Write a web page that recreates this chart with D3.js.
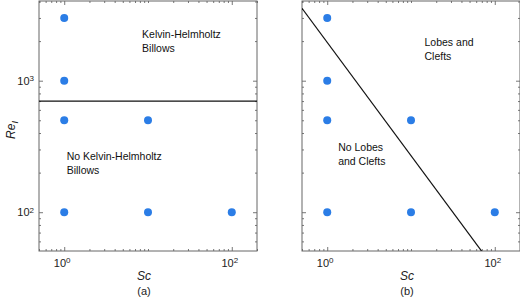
<!DOCTYPE html>
<html>
<head>
<meta charset="utf-8">
<script src="https://cdn.jsdelivr.net/npm/d3@7"></script>
<style>
  body { margin: 0; background: #fff; }
  text { font-family: "Liberation Sans", Arial, sans-serif; }
</style>
</head>
<body>
<div id="chart"></div>
<script>
// simulation points (Sc, Re_I), same in both panels
var scValues = [1, 1, 1, 10, 1, 10, 100];
var reValues = [3000, 1000, 500, 500, 100, 100, 100];

// regime boundaries
var khLine = [[0.5, 700], [200, 700]];          // panel (a)
var lobeLine = [[0.5, 3550], [70.6, 50]];        // panel (b)

var xTicks = [1, 100];
var yTicks = [100, 1000];

var panels = [
  { id: "(a)", left: 39, boundary: khLine,
    notes: [
      { sc: 8.5, re: 2100, lines: ["Kelvin-Helmholtz", "Billows"] },
      { sc: 1.07, re: 250, lines: ["No Kelvin-Helmholtz", "Billows"] }
    ] },
  { id: "(b)", left: 302, boundary: lobeLine,
    notes: [
      { sc: 14.5, re: 1830, lines: ["Lobes and", "Clefts"] },
      { sc: 1.35, re: 290, lines: ["No Lobes", "and Clefts"] }
    ] }
];

var w = 520, h = 298;
var pw = 218, plotTop = 1, plotBottom = 251;

var svg = d3.select("#chart").append("svg")
    .attr("width", w)
    .attr("height", h);

var yScale = d3.scaleLog().domain([50.7, 4036]).range([plotBottom, plotTop]);

function minorTicks(domain) {
  var out = [];
  for (var e = -2; e <= 4; e++) {
    for (var m = 1; m <= 9; m++) {
      var v = m * Math.pow(10, e);
      if (v >= domain[0] && v <= domain[1]) out.push(v);
    }
  }
  return out;
}

function superLabel(sel) {
  sel.each(function(d) {
    var t = d3.select(this).text("");
    t.append("tspan").text("10");
    t.append("tspan").attr("dy", "-0.45em").attr("font-size", "8px").text(Math.round(Math.log10(d)));
  });
}

panels.forEach(function(p, i) {
  var xScale = d3.scaleLog().domain([0.5, 200]).range([p.left, p.left + pw]);
  var g = svg.append("g");

  g.append("defs").append("clipPath").attr("id", "clip" + i)
    .append("rect").attr("x", p.left).attr("y", plotTop)
    .attr("width", pw).attr("height", plotBottom - plotTop);

  var xMinor = minorTicks(xScale.domain());
  var yMinor = minorTicks(yScale.domain());

  // inward ticks on all four sides
  var axes = [
    { ax: d3.axisBottom(xScale), y: plotBottom, vals: xMinor, major: xTicks, horiz: true },
    { ax: d3.axisTop(xScale), y: plotTop, vals: xMinor, major: xTicks, horiz: true },
    { ax: d3.axisLeft(yScale), x: p.left, vals: yMinor, major: yTicks, horiz: false },
    { ax: d3.axisRight(yScale), x: p.left + pw, vals: yMinor, major: yTicks, horiz: false }
  ];
  axes.forEach(function(a) {
    var ag = g.append("g")
      .attr("transform", a.horiz ? "translate(0," + a.y + ")" : "translate(" + a.x + ",0)")
      .call(a.ax.tickValues(a.vals).tickFormat("").tickSizeInner(-2).tickSizeOuter(0));
    ag.select(".domain").remove();
    ag.selectAll(".tick text").remove();
    ag.selectAll(".tick line")
      .attr("stroke", "#777")
      .filter(function(d) { return a.major.indexOf(d) >= 0; })
      .attr(a.horiz ? "y2" : "x2", function() { return +d3.select(this).attr(a.horiz ? "y2" : "x2") * 2; });
  });

  // x tick labels
  g.selectAll(".xl").data(xTicks).enter().append("text")
    .attr("class", "xl")
    .attr("x", function(d) { return xScale(d) - 2; })
    .attr("y", 267)
    .attr("text-anchor", "middle")
    .attr("font-size", "11px")
    .attr("fill", "#222")
    .call(superLabel);

  if (i === 0) {
    g.selectAll(".yl").data(yTicks).enter().append("text")
      .attr("class", "yl")
      .attr("x", p.left - 5)
      .attr("y", function(d) { return yScale(d) + 4; })
      .attr("text-anchor", "end")
      .attr("font-size", "11px")
      .attr("fill", "#222")
      .call(superLabel);

    var yl = g.append("text")
      .attr("transform", "translate(15," + ((plotTop + plotBottom) / 2 + 4) + ") rotate(-90)")
      .attr("text-anchor", "middle")
      .attr("font-family", "DejaVu Serif, serif")
      .attr("font-style", "italic")
      .attr("font-size", "12px")
      .attr("fill", "#222");
    yl.append("tspan").text("Re");
    yl.append("tspan").attr("dy", "3").attr("font-size", "9px").text("I");
  }

  // frame
  g.append("rect")
    .attr("x", p.left).attr("y", plotTop)
    .attr("width", pw).attr("height", plotBottom - plotTop)
    .attr("fill", "none").attr("stroke", "#666").attr("stroke-width", 1);

  // boundary line
  g.append("path")
    .datum(p.boundary)
    .attr("clip-path", "url(#clip" + i + ")")
    .attr("d", d3.line().x(function(d) { return xScale(d[0]); }).y(function(d) { return yScale(d[1]); }))
    .attr("fill", "none").attr("stroke", "#111").attr("stroke-width", 1.2);

  // points
  g.selectAll("circle").data(scValues).enter().append("circle")
    .attr("cx", function(d) { return xScale(d); })
    .attr("cy", function(d, j) { return yScale(reValues[j]); })
    .attr("r", 4)
    .attr("fill", "#2b7de6");

  // annotations
  p.notes.forEach(function(n) {
    var t = g.append("text")
      .attr("x", xScale(n.sc))
      .attr("y", yScale(n.re))
      .attr("font-size", "10.5px")
      .attr("fill", "#111");
    n.lines.forEach(function(s, k) {
      t.append("tspan").attr("x", xScale(n.sc)).attr("dy", k ? 14 : 0).text(s);
    });
  });

  // x label and panel letter
  g.append("text")
    .attr("x", p.left + pw / 2 - 4).attr("y", 280)
    .attr("text-anchor", "middle")
    .attr("font-family", "DejaVu Serif, serif")
    .attr("font-style", "italic")
    .attr("font-size", "12px")
    .attr("fill", "#222")
    .text("Sc");
  g.append("text")
    .attr("x", p.left + pw / 2 - 4).attr("y", 295)
    .attr("text-anchor", "middle")
    .attr("font-family", "DejaVu Serif, serif")
    .attr("font-size", "11px")
    .attr("fill", "#222")
    .text(p.id);
});
</script>
</body>
</html>
